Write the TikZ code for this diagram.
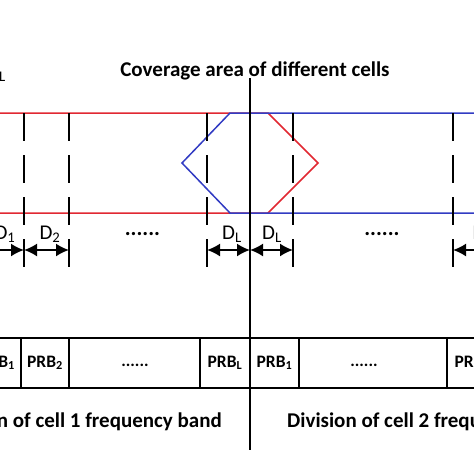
\documentclass[tikz,border=0pt]{standalone}
\usepackage{fontspec}
\setmainfont{Carlito}
\usetikzlibrary{arrows.meta}
\definecolor{cellred}{RGB}{225,40,50}
\definecolor{cellblue}{RGB}{50,60,195}
\begin{document}
\begin{tikzpicture}[x=1pt,y=-1pt,
  redcell/.style={draw=cellred,line width=1.5pt,line join=miter},
  bluecell/.style={draw=cellblue,line width=1.5pt,line join=miter},
  divider/.style={draw=black,line width=2pt,dash pattern=on 27.5pt off 14.5pt},
  centerline/.style={draw=black,line width=2pt},
  dimarrow/.style={line width=1.8pt,{Latex[length=13pt,width=13pt]}-{Latex[length=13pt,width=13pt]}},
  onearrow/.style={line width=1.8pt,-{Latex[length=13pt,width=13pt]}},
  dlabel/.style={font=\fontsize{21}{23}\selectfont,inner sep=0pt},
  dots/.style={font=\bfseries\fontsize{22}{24}\selectfont,inner sep=0pt},
  pdots/.style={font=\bfseries\fontsize{17}{20}\selectfont,inner sep=0pt},
  prb/.style={draw=black,line width=1.5pt,minimum height=50pt,inner sep=0pt,font=\bfseries\fontsize{17.5}{20}\selectfont},
  heading/.style={font=\bfseries\fontsize{21}{24}\selectfont,inner sep=0pt}]
\useasboundingbox (0,0) rectangle (474,474);
\fill[white] (0,0) rectangle (474,474);

% title and partial corner label
\node[heading,anchor=base] (title) at (255,76) {Coverage area of different cells};
\node[dlabel,anchor=base east] (cornerlbl) at (6,78) {D\textsubscript{L}};

% cell coverage outlines
\coordinate (ra) at (-10,113); \coordinate (rb) at (268,113); \coordinate (rc) at (318,163);
\coordinate (rd) at (268,213); \coordinate (re) at (-10,213);
\coordinate (ba) at (484,113); \coordinate (bb) at (230,113); \coordinate (bc) at (182,163);
\coordinate (bd) at (230,213); \coordinate (be) at (484,213);
\draw[redcell] (ra) -- (rb) -- (rc) -- (rd) -- (re);
\draw[bluecell] (ba) -- (bb) -- (bc) -- (bd) -- (be);

% dashed dividers
\foreach \n/\x in {d1/24,d2/69,d3/207,d4/293,d5/453}{
  \coordinate (\n t) at (\x,113);
  \coordinate (\n b) at (\x,268);
  \coordinate (\n m) at (\x,250);
  \draw[divider] (\n t) -- (\n b);
}
% centre line
\coordinate (ct) at (250,78); \coordinate (cb) at (250,450); \coordinate (cm) at (250,250);
\draw[centerline] (ct) -- (cb);

% dimension arrows
\coordinate (leftend) at (-5,250);
\coordinate (rightend) at (480,250);
\draw[onearrow] (leftend) -- (d1m);
\draw[dimarrow] (d1m) -- (d2m);
\draw[dimarrow] (d3m) -- (cm);
\draw[dimarrow] (cm) -- (d4m);
\draw[onearrow] (rightend) -- (d5m);

\node[dlabel] (lD1) at (5,234) {D\textsubscript{1}};
\node[dlabel] (lD2) at (50,234) {D\textsubscript{2}};
\node[dots] (ldots1) at (142.5,234) {......};
\node[dlabel] (lDL1) at (232,234) {D\textsubscript{L}};
\node[dlabel] (lDL2) at (272,234) {D\textsubscript{L}};
\node[dots] (ldots2) at (382,234) {......};
\node[dlabel] (lDr) at (483,234) {D\textsubscript{1}};

% PRB boxes
\node[prb,minimum width=48pt] (p1) at (-3,363) {PRB\textsubscript{1}};
\node[prb,minimum width=48pt] (p2) at (45,363) {PRB\textsubscript{2}};
\node[prb,minimum width=131pt] (pd) at (134.5,363) {};
\node[prb,minimum width=50pt] (pL) at (225,363) {PRB\textsubscript{L}};
\node[prb,minimum width=49pt] (q1) at (274.5,363) {PRB\textsubscript{1}};
\node[prb,minimum width=148pt] (qd) at (373,363) {};
\node[prb,minimum width=50pt] (qL) at (472,363) {PRB\textsubscript{L}};
\node[pdots] (pdots1) at (135,365) {......};
\node[pdots] (pdots2) at (364,365) {......};

% bottom labels
\node[heading,anchor=base east] (band1) at (222,427) {Division of cell 1 frequency band};
\node[heading,anchor=base west] (band2) at (287,427) {Division of cell 2 frequency band};
\end{tikzpicture}
\end{document}
